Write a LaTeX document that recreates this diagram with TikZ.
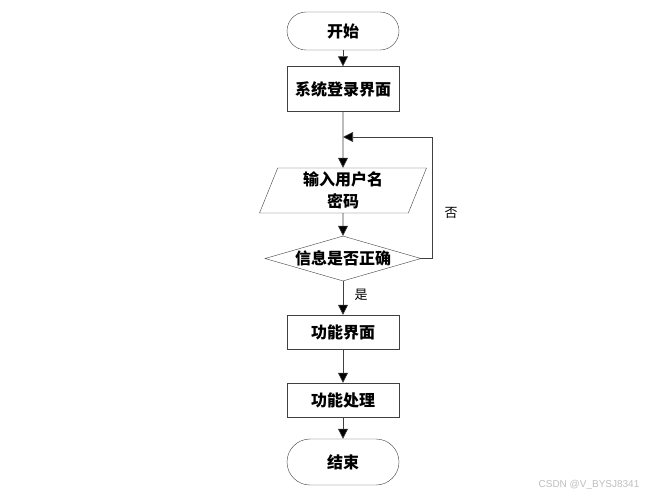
\documentclass[tikz,border=0pt]{standalone}
\usepackage{fontspec}
\setmainfont{Liberation Sans}
\newfontfamily\cjk{Noto Sans CJK SC}
\usetikzlibrary{arrows.meta, positioning, shapes.geometric}
\definecolor{flowline}{HTML}{404040}
\definecolor{markgray}{HTML}{BEBEBE}

\begin{document}
\begin{tikzpicture}[x=1pt, y=-1pt,
    term/.style={rectangle, rounded corners=19pt, draw=flowline, fill=white,
                minimum width=112pt, minimum height=38pt, align=center,
                font=\cjk\fontsize{16}{19}\selectfont\bfseries},
    box/.style={rectangle, draw=flowline, fill=white,
                minimum width=112pt, minimum height=34pt, align=center,
                font=\cjk\fontsize{16}{19}\selectfont\bfseries},
    io/.style={trapezium, trapezium left angle=64, trapezium right angle=116,
                trapezium stretches body, draw=flowline, fill=white, inner sep=0pt,
                minimum width=167pt, minimum height=45pt, align=center,
                font=\cjk\fontsize{16}{22}\selectfont\bfseries},
    test/.style={diamond, aspect=3.47, draw=flowline, fill=white, inner sep=0pt,
                minimum width=156pt, minimum height=45pt, align=center,
                font=\cjk\fontsize{16}{19}\selectfont\bfseries},
    arr/.style={-{Triangle[length=10pt, width=10pt, fill=black]}, semithick, color=flowline},
    lbl/.style={font=\cjk\fontsize{13}{15}\selectfont, text=black}
  ]
    \useasboundingbox (0,0) rectangle (658,499);

    \node[term] (start) at (343,31)  {开始};
    \node[box, minimum height=45pt] (login) at (343,89) {系统登录界面};
    \node[io]   (input) at (343,190.5) {输入用户名\\密码};
    \node[test] (check) at (343,258.5) {信息是否正确};
    \node[box]  (menu)  at (343,332) {功能界面};
    \node[box]  (work)  at (343,400) {功能处理};
    \node[term, minimum height=46pt, rounded corners=23pt] (stop) at (343,462) {结束};

    \coordinate (back) at (432,137);
    \coordinate (join) at (343,137);

    \draw[arr] (start) -- (login);
    \draw[arr] (login) -- (input);
    \draw[arr] (input) -- (check);
    \draw[arr] (check) -- node[lbl, pos=0.4, right=8pt] {是} (menu);
    \draw[arr] (menu)  -- (work);
    \draw[arr] (work)  -- (stop);
    \draw[arr] (check.east) -| (back) -- (join);
    \node[lbl] (no) at (451,213) {否};

    \node[font=\fontsize{10}{12}\selectfont, text=markgray] (mark) at (589,485) {CSDN @V\_BYSJ8341};
  \end{tikzpicture}
\end{document}
